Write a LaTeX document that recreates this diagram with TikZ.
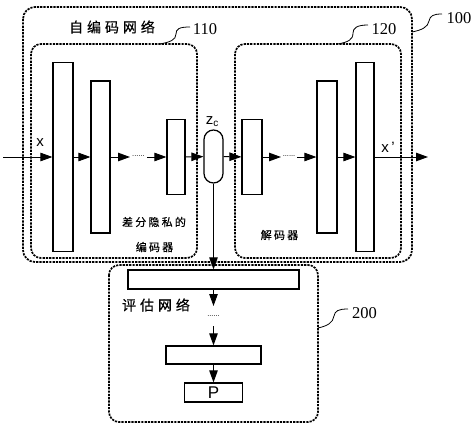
\documentclass[tikz,border=0pt]{standalone}
\usepackage{fontspec}
\setmainfont{Liberation Sans}
\newfontfamily\numfont{Liberation Serif}
\newfontfamily\cjkL[LetterSpace=28,FakeBold=0.5]{Noto Sans CJK SC}
\newfontfamily\cjkS[LetterSpace=20,FakeBold=0.5]{Noto Sans CJK SC}
\usetikzlibrary{arrows.meta}
\tikzset{
  grp/.style={draw, line width=1.7pt, dash pattern=on 2.2pt off 1.1pt, rounded corners=12pt},
  bar/.style={draw, line width=1.2pt, fill=white, inner sep=0pt},
  arr/.style={line width=0.9pt, -{Triangle[length=12pt,width=8.5pt]}},
  lead/.style={line width=0.8pt},
  dots/.style={inner sep=0.5pt, font=\fontsize{7.5}{7.5}\selectfont},
  num/.style={inner sep=0pt, font=\numfont\fontsize{16.5}{16.5}\selectfont},
  big/.style={inner sep=0pt, font=\cjkL\fontsize{14}{14}\selectfont},
  small/.style={inner sep=0pt, font=\cjkS\fontsize{11}{11}\selectfont},
  lab/.style={inner sep=0pt, font=\fontsize{15}{15}\selectfont}
}
\begin{document}
\begin{tikzpicture}[x=1pt,y=-1pt]
\useasboundingbox (0,0) rectangle (474,428);
% group boxes
\draw[grp] (23,7) rectangle (412,262);
\draw[grp, rounded corners=10pt] (31,44) rectangle (197,258);
\draw[grp, rounded corners=10pt] (235,44) rectangle (401,258);
\draw[grp, rounded corners=10pt] (109,265) rectangle (318,422);
% bars
\node[bar, minimum width=20pt, minimum height=189pt] (b1) at (63,157) {};
\node[bar, minimum width=19pt, minimum height=152pt] (b2) at (100.5,157) {};
\node[bar, minimum width=18pt, minimum height=75pt] (b3) at (176,157) {};
\node[bar, minimum width=19pt, minimum height=53pt, rounded corners=9.5pt] (zc) at (213.5,156.5) {};
\node[bar, minimum width=20pt, minimum height=75pt] (b4) at (252,157) {};
\node[bar, minimum width=20pt, minimum height=152pt] (b5) at (327,157) {};
\node[bar, minimum width=18pt, minimum height=189pt] (b6) at (365,157) {};
% evaluation network
\node[bar, minimum width=171pt, minimum height=19pt] (ra) at (213.5,279.5) {};
\node[bar, minimum width=95pt, minimum height=18pt] (rb) at (213.5,355) {};
\node[bar, minimum width=58pt, minimum height=19pt, font=\fontsize{17}{17}\selectfont] (p) at (213.5,392.5) {P};
% coordinates
\coordinate (in) at (3,157);
\coordinate (out) at (428,157);
\coordinate (e1) at (130,157);
\coordinate (s1) at (147,157);
\coordinate (e2) at (281,157);
\coordinate (s2) at (297,157);
\coordinate (e3) at (213.5,306);
\coordinate (s3) at (213.5,326);
\node[dots] (d1) at (138.5,156) {......};
\node[dots] (d2) at (289,156) {......};
\node[dots] (d3) at (213.5,316) {......};
% connectors
\draw[arr] (in) -- (b1);
\draw[arr] (b1) -- (b2);
\draw[arr] (b2) -- (e1);
\draw[arr] (s1) -- (b3);
\draw[arr] (b3) -- (zc);
\draw[arr] (zc) -- (b4);
\draw[arr] (b4) -- (e2);
\draw[arr] (s2) -- (b5);
\draw[arr] (b5) -- (b6);
\draw[arr] (b6) -- (out);
\draw[arr] (zc) -- (ra);
\draw[arr] (ra) -- (e3);
\draw[arr] (s3) -- (rb);
\draw[arr] (rb) -- (p);
% labels
\node[lab] (lx) at (40,143) {x};
\node[lab] (lxp) at (388,147) {x\,’};
\node[lab] (lz) at (212,122) {z\raisebox{-2pt}{\fontsize{10}{10}\selectfont c}};
\node[big] (t1) at (112,27) {自编码网络};
\node[big] (t2) at (156,305) {评估网络};
\node[small] (t3) at (154,222) {差分隐私的};
\node[small] (t4) at (154.5,247) {编码器};
\node[small] (t5) at (279.5,235) {解码器};
% reference numbers
\node[num] (n110) at (205,29) {110};
\node[num] (n120) at (384,29) {120};
\node[num] (n100) at (459,18) {100};
\node[num] (n200) at (364.5,313) {200};
\draw[lead] (160,44) .. controls (170,42) and (176,40) .. (176,34) .. controls (176,29) and (179,27) .. (190,27);
\draw[lead] (338,44) .. controls (348,42) and (353,40) .. (353,33) .. controls (353,28) and (357,25) .. (368,25);
\draw[lead] (412,32) .. controls (422,30) and (428,27) .. (429,21) .. controls (430,16) and (433,14) .. (442,14);
\draw[lead] (318,328) .. controls (327,326) and (333,323) .. (334,316) .. controls (335,311) and (338,309) .. (348,309);
\end{tikzpicture}
\end{document}
